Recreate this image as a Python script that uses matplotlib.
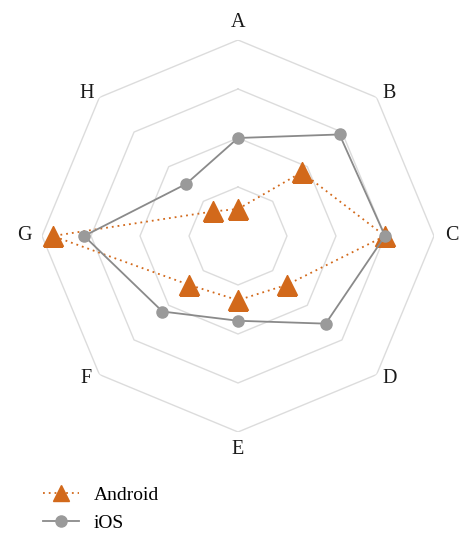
import matplotlib.pyplot as plt
import numpy as np
from matplotlib.lines import Line2D

# radar values
categories = ["A", "B", "C", "D", "E", "F", "G", "H"]
android = [0.55, 1.84, 3.0, 1.41, 1.31, 1.41, 3.78, 0.71]
ios = [2.0, 2.93, 3.0, 2.53, 1.73, 2.18, 3.14, 1.5]
levels = [1, 2, 3, 4]

orange = "#d2691b"
grey_mk = "#9a9a9a"
grey_ln = "#8a8a8a"

plt.rcParams["font.family"] = ["Liberation Serif", "DejaVu Serif"]

fig = plt.figure(figsize=(4.74, 5.43), dpi=100)
ax = fig.add_axes([0.0886, 0.2044, 0.827, 0.722], projection="polar")
ax.set_theta_zero_location("N")
ax.set_theta_direction(-1)

n = len(categories)
ang = np.arange(n) * 2 * np.pi / n
ang_c = np.append(ang, ang[0])

# octagonal grid
for lv in levels:
    ax.plot(ang_c, [lv] * (n + 1), color="#dcdcdc", lw=1.0, zorder=1)

a = android + android[:1]
ax.plot(ang_c, a, color=orange, ls=(0, (1, 2.2)), lw=1.3, zorder=3)
ax.plot(ang, android, ls="none", marker="^", ms=15, color=orange, zorder=4)

i = ios + ios[:1]
ax.plot(ang_c, i, color=grey_ln, lw=1.3, zorder=5)
ax.plot(ang, ios, ls="none", marker="o", ms=8, color=grey_mk, zorder=6)

for t, lab in zip(ang, categories):
    r = 4.36 if lab in "ACEG" else 4.25
    tt = t
    if lab in "BD":
        tt = t + 0.03 * (1 if lab == "B" else -1)
    if lab in "HF":
        tt = t - 0.03 * (1 if lab == "H" else -1)
    ax.text(tt, r, lab, ha="center", va="center", fontsize=14.5, color="#1a1a1a")

ax.set_ylim(0, 4)
ax.set_xticks([])
ax.set_yticks([])
ax.grid(False)
ax.spines["polar"].set_visible(False)
ax.patch.set_visible(False)

handles = [
    Line2D([], [], color=orange, ls=(0, (1, 2.2)), lw=1.3, marker="^", ms=11),
    Line2D([], [], color=grey_ln, lw=1.3, marker="o", ms=8, mfc=grey_mk, mec=grey_mk),
]
fig.legend(handles, ["Android", "iOS"], loc="upper left",
           bbox_to_anchor=(0.074, 0.1195), frameon=False, fontsize=14,
           handlelength=1.85, handletextpad=0.75, labelspacing=0.55,
           borderaxespad=0)

fig.savefig("out.png", dpi=100)
